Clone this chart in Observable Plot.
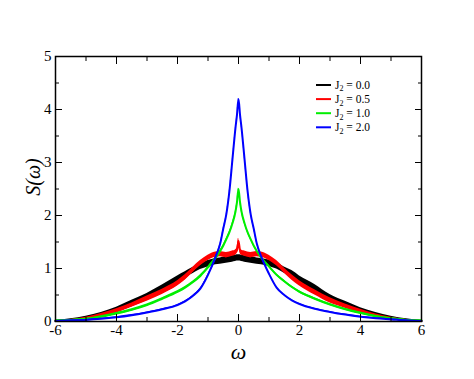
<!DOCTYPE html>
<html>
<head>
<meta charset="utf-8">
<script src="https://cdn.jsdelivr.net/npm/d3@7"></script>
<script src="https://cdn.jsdelivr.net/npm/@observablehq/plot@0.6"></script>
<style>
  html, body { margin: 0; padding: 0; background: #fff; }
  #wrap { position: relative; width: 474px; height: 379px; }
  #wrap svg, #wrap text { font-family: "Liberation Serif", "Times New Roman", serif !important; }
  #legend { position: absolute; left: 0; top: 0; pointer-events: none; }
</style>
</head>
<body>
<div id="wrap"></div>
<script>
// ---- data ----
const omega = [-6,-5.5,-5,-4.5,-4,-3.5,-3,-2.5,-2,-1.75,-1.5,-1.25,-1,-0.75,-0.6,-0.5,-0.4,-0.3,-0.2,-0.1,-0.05,0,
               0.05,0.1,0.2,0.3,0.4,0.5,0.6,0.75,1,1.25,1.5,1.75,2,2.5,3,3.5,4,4.5,5,5.5,6];

const sJ00 = [0.01,0.03,0.07,0.13,0.22,0.34,0.47,0.63,0.80,0.88,0.96,1.04,1.09,1.13,1.14,1.15,1.16,1.17,1.18,1.19,1.20,1.20,
              1.20,1.19,1.18,1.17,1.16,1.15,1.14,1.13,1.10,1.05,0.97,0.90,0.80,0.64,0.45,0.32,0.21,0.13,0.07,0.03,0.01];
const sJ05 = [0.01,0.03,0.06,0.12,0.20,0.31,0.43,0.56,0.72,0.83,0.97,1.10,1.20,1.26,1.27,1.26,1.25,1.26,1.28,1.30,1.34,1.52,
              1.34,1.30,1.28,1.26,1.25,1.26,1.27,1.26,1.20,1.10,0.96,0.83,0.72,0.55,0.40,0.29,0.19,0.11,0.06,0.03,0.01];
const sJ10 = [0.02,0.03,0.05,0.09,0.15,0.22,0.31,0.43,0.56,0.64,0.74,0.86,1.02,1.20,1.33,1.43,1.55,1.68,1.85,2.07,2.25,2.50,
              2.25,2.07,1.85,1.68,1.55,1.43,1.33,1.20,1.04,0.88,0.76,0.65,0.56,0.43,0.32,0.23,0.16,0.10,0.06,0.03,0.02];
const sJ20 = [0.01,0.02,0.03,0.05,0.08,0.12,0.17,0.23,0.31,0.38,0.48,0.62,0.88,1.22,1.47,1.75,2.02,2.45,3.05,3.65,3.90,4.20,
              3.90,3.65,3.05,2.45,2.02,1.75,1.47,1.22,0.90,0.64,0.50,0.40,0.33,0.24,0.18,0.13,0.09,0.06,0.04,0.02,0.01];

// half-width of the noisy band of each curve
const nJ00 = [0.01,0.02,0.03,0.04,0.05,0.06,0.06,0.06,0.06,0.06,0.06,0.06,0.06,0.06,0.06,0.06,0.06,0.06,0.06,0.06,0.06,0.06,
              0.06,0.06,0.06,0.06,0.06,0.06,0.06,0.06,0.06,0.06,0.06,0.06,0.06,0.06,0.06,0.06,0.05,0.04,0.03,0.02,0.01];
const nJ05 = [0.01,0.01,0.02,0.03,0.04,0.04,0.05,0.05,0.05,0.05,0.05,0.05,0.05,0.05,0.05,0.05,0.05,0.05,0.05,0.05,0.05,0.05,
              0.05,0.05,0.05,0.05,0.05,0.05,0.05,0.05,0.05,0.05,0.05,0.05,0.05,0.05,0.05,0.04,0.04,0.03,0.02,0.01,0.01];
const nJ10 = [0.01,0.01,0.01,0.02,0.02,0.02,0.02,0.02,0.02,0.02,0.02,0.02,0.02,0.02,0.02,0.02,0.02,0.02,0.02,0.02,0.02,0.02,
              0.02,0.02,0.02,0.02,0.02,0.02,0.02,0.02,0.02,0.02,0.02,0.02,0.02,0.02,0.02,0.02,0.02,0.02,0.01,0.01,0.01];
const nJ20 = [0.01,0.01,0.01,0.01,0.01,0.01,0.01,0.01,0.01,0.01,0.01,0.01,0.01,0.01,0.01,0.01,0.01,0.01,0.01,0.01,0.01,0.01,
              0.01,0.01,0.01,0.01,0.01,0.01,0.01,0.01,0.01,0.01,0.01,0.01,0.01,0.01,0.01,0.01,0.01,0.01,0.01,0.01,0.01];

const seriesNames  = ["J2 = 0.0", "J2 = 0.5", "J2 = 1.0", "J2 = 2.0"];
const legendValues = ["0.0", "0.5", "1.0", "2.0"];
const seriesColors = ["#000000", "#ff0000", "#00ee00", "#0000ff"];

const xTicks = [-6, -4, -2, 0, 2, 4, 6];
const xMinor = [-5, -3, -1, 1, 3, 5];
const yTicks = [0, 1, 2, 3, 4, 5];
const yMinor = [0.5, 1.5, 2.5, 3.5, 4.5];

// ---- build tidy table ----
const values = [sJ00, sJ05, sJ10, sJ20];
const noise = [nJ00, nJ05, nJ10, nJ20];
const rows = [];
values.forEach((arr, s) => arr.forEach((v, i) => rows.push({
  series: seriesNames[s], x: omega[i], y: v, lo: Math.max(0, v - noise[s][i]), hi: v + noise[s][i]
})));

const serif = "Liberation Serif";
const marks = [];
seriesNames.forEach((name, s) => {
  const d = rows.filter(r => r.series === name);
  marks.push(Plot.areaY(d, {x: "x", y1: "lo", y2: "hi", fill: seriesColors[s], curve: "monotone-x"}));
  marks.push(Plot.lineY(d, {x: "x", y: "y", stroke: seriesColors[s], strokeWidth: 2, curve: "monotone-x"}));
});

const fmt = d => String(d);
const chart = Plot.plot({
  width: 474,
  height: 379,
  marginLeft: 55,
  marginRight: 53,
  marginTop: 56,
  marginBottom: 58,
  style: "font-family: 'Liberation Serif', 'Times New Roman', serif; font-size: 14px; background: #fff; color: #000;",
  x: {domain: [-6, 6]},
  y: {domain: [0, 5]},
  marks: [
    ...marks,
    Plot.frame({stroke: "#000", strokeWidth: 1.5}),
    Plot.axisX({anchor: "bottom", ticks: xTicks, tickSize: -7, tickPadding: 10, tickFormat: fmt, label: null, fontSize: 15, fontFamily: serif}),
    Plot.axisX({anchor: "bottom", ticks: xMinor, tickSize: -4, text: null, label: null}),
    Plot.axisX({anchor: "top", ticks: xTicks, tickSize: -7, text: null, label: null}),
    Plot.axisX({anchor: "top", ticks: xMinor, tickSize: -4, text: null, label: null}),
    Plot.axisY({anchor: "left", ticks: yTicks, tickSize: -7, tickPadding: 11, tickFormat: fmt, label: null, fontSize: 15, fontFamily: serif}),
    Plot.axisY({anchor: "left", ticks: yMinor, tickSize: -4, text: null, label: null}),
    Plot.axisY({anchor: "right", ticks: yTicks, tickSize: -7, text: null, label: null}),
    Plot.axisY({anchor: "right", ticks: yMinor, tickSize: -4, text: null, label: null}),
    Plot.text(["S(ω)"], {frameAnchor: "left", dx: -22, dy: -12, rotate: -90, textAnchor: "middle", lineAnchor: "middle", fontSize: 20, fontStyle: "italic", fontFamily: serif}),
    Plot.text(["ω"], {frameAnchor: "bottom", dy: 30, textAnchor: "middle", lineAnchor: "middle", fontSize: 22, fontStyle: "italic", fontFamily: serif})
  ]
});

const wrap = document.getElementById("wrap");
wrap.appendChild(chart);

// ---- legend overlay ----
const leg = d3.select(wrap).append("svg")
  .attr("id", "legend").attr("width", 474).attr("height", 379)
  .style("font-family", "'Liberation Serif', 'Times New Roman', serif");
const items = leg.selectAll("g").data(legendValues).join("g")
  .attr("transform", (d, i) => `translate(316, ${85 + i * 14.1})`);
items.append("line").attr("x1", 0).attr("x2", 15).attr("y1", 0).attr("y2", 0)
  .attr("stroke", (d, i) => seriesColors[i]).attr("stroke-width", 2);
const t = items.append("text").attr("x", 19).attr("y", 0).attr("dy", "0.35em")
  .attr("font-size", 11.5).attr("fill", "#000");
t.append("tspan").text("J");
t.append("tspan").attr("font-size", 8).attr("dy", "0.3em").text("2");
t.append("tspan").attr("dy", "-0.25em").text(d => " = " + d);
</script>
</body>
</html>
